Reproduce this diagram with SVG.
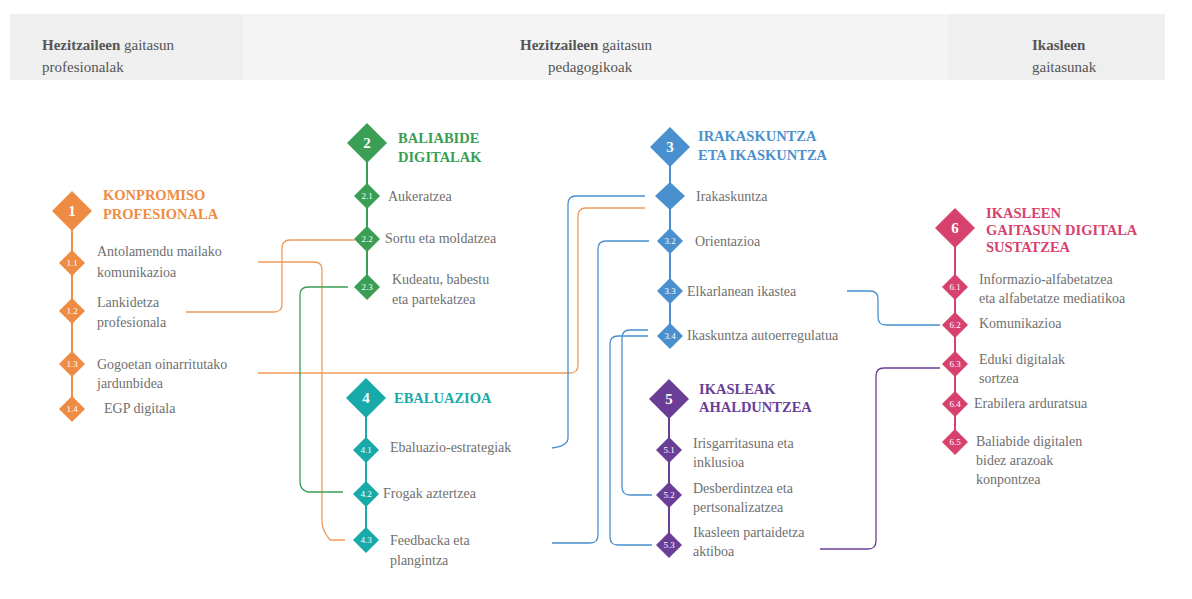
<svg xmlns="http://www.w3.org/2000/svg" width="1192" height="599" viewBox="0 0 1192 599" font-family="'Liberation Serif','Times New Roman','DejaVu Serif',serif">
<style>
text{font-family:'Liberation Serif','Times New Roman','DejaVu Serif',serif;}
.t{font-size:14px;fill:#6f6f6f}
.h{font-size:15px;fill:#555}
.hb{font-weight:bold}
.ti{font-size:14.5px;font-weight:bold}
.n{font-size:15px;fill:#fff;font-weight:bold;text-anchor:middle}
.s{font-size:9px;fill:#fff;text-anchor:middle}
.c{fill:none;stroke-width:1.3}
</style>
<rect x="0" y="0" width="1192" height="599" fill="#fff"/>
<rect x="10" y="14" width="233" height="66" fill="#efefef"/>
<rect x="243" y="14" width="705" height="66" fill="#f4f4f4"/>
<rect x="948" y="14" width="217" height="66" fill="#efefef"/>
<text class="h" x="42" y="50"><tspan class="hb">Hezitzaileen</tspan> gaitasun</text>
<text class="h" x="42" y="72">profesionalak</text>
<text class="h" x="520" y="50"><tspan class="hb">Hezitzaileen</tspan> gaitasun</text>
<text class="h" x="548" y="72">pedagogikoak</text>
<text class="h hb" x="1032" y="50">Ikasleen</text>
<text class="h" x="1032" y="72">gaitasunak</text>

<g id="connectors">
<path class="c" stroke="#ef9a5c" d="M258,262 H314 Q322,262 322,270 V522 Q322,530 330,540 H345"/>
<path class="c" stroke="#ef9a5c" d="M186,312 H274 Q282,312 282,304 V248 Q282,240 290,240 H355"/>
<path class="c" stroke="#ef9a5c" d="M258,373 H570 Q578,373 578,365 V216 Q578,208 586,208 H645"/>
<path class="c" stroke="#3a9e54" d="M348,287 H308 Q300,287 300,295 V482 Q300,490 308,492 H343"/>
<path class="c" stroke="#4a8fce" d="M645,196 H576 Q568,196 568,204 V438 Q568,446 552,448"/>
<path class="c" stroke="#4a8fce" d="M649,241 H606 Q598,241 598,249 V535 Q598,543 590,543 H552"/>
<path class="c" stroke="#4a8fce" d="M648,336 H618 Q610,336 610,344 V537 Q610,545 618,545 H652"/>
<path class="c" stroke="#4a8fce" d="M648,330 H630 Q622,330 622,338 V487 Q622,495 630,495 H652"/>
<path class="c" stroke="#4a8fce" d="M847,291 H870 Q878,291 878,299 V317 Q878,325 886,325 H940"/>
<path class="c" stroke="#6a3e97" d="M820,549 H868 Q876,549 876,541 V376 Q876,368 884,368 H940"/>
</g>

<g id="node1">
<line x1="72" y1="211" x2="72" y2="409" stroke="#ef8c44" stroke-width="2"/>
<path d="M72,191 L92,211 L72,231 L52,211Z" fill="#ef8c44"/><text class="n" x="72" y="216">1</text>
<text class="ti" fill="#ef8c44" x="103" y="200">KONPROMISO</text>
<text class="ti" fill="#ef8c44" x="103" y="219">PROFESIONALA</text>
<path d="M72,250 L85,263 L72,276 L59,263Z" fill="#ef8c44"/><text class="s" x="72" y="266">1.1</text>
<path d="M72,298 L85,311 L72,324 L59,311Z" fill="#ef8c44"/><text class="s" x="72" y="314">1.2</text>
<path d="M72,351 L85,364 L72,377 L59,364Z" fill="#ef8c44"/><text class="s" x="72" y="367">1.3</text>
<path d="M72,396 L85,409 L72,422 L59,409Z" fill="#ef8c44"/><text class="s" x="72" y="412">1.4</text>
<text class="t" x="97" y="256">Antolamendu mailako</text><text class="t" x="97" y="277">komunikazioa</text>
<text class="t" x="97" y="307">Lankidetza</text><text class="t" x="97" y="327">profesionala</text>
<text class="t" x="97" y="369">Gogoetan oinarritutako</text><text class="t" x="97" y="388">jardunbidea</text>
<text class="t" x="104" y="413">EGP digitala</text>
</g>

<g id="node2">
<line x1="367" y1="143" x2="367" y2="287" stroke="#3a9e54" stroke-width="2"/>
<path d="M367,123 L387,143 L367,163 L347,143Z" fill="#3a9e54"/><text class="n" x="367" y="148">2</text>
<text class="ti" fill="#3a9e54" x="398" y="143">BALIABIDE</text>
<text class="ti" fill="#3a9e54" x="398" y="162">DIGITALAK</text>
<path d="M367,183 L380,196 L367,209 L354,196Z" fill="#3a9e54"/><text class="s" x="367" y="199">2.1</text>
<path d="M367,226 L380,239 L367,252 L354,239Z" fill="#3a9e54"/><text class="s" x="367" y="242">2.2</text>
<path d="M367,274 L380,287 L367,300 L354,287Z" fill="#3a9e54"/><text class="s" x="367" y="290">2.3</text>
<text class="t" x="388" y="201">Aukeratzea</text>
<text class="t" x="385" y="243">Sortu eta moldatzea</text>
<text class="t" x="392" y="284">Kudeatu,  babestu</text><text class="t" x="392" y="304">eta partekatzea</text>
</g>

<g id="node3">
<line x1="670" y1="147" x2="670" y2="336" stroke="#4a8fce" stroke-width="2"/>
<path d="M670,127 L690,147 L670,167 L650,147Z" fill="#4a8fce"/><text class="n" x="670" y="152">3</text>
<text class="ti" fill="#4a8fce" x="698" y="141">IRAKASKUNTZA</text>
<text class="ti" fill="#4a8fce" x="698" y="160">ETA IKASKUNTZA</text>
<path d="M670,182 L685,196 L670,210 L655,196Z" fill="#4a8fce"/>
<path d="M670,228 L683,241 L670,254 L657,241Z" fill="#4a8fce"/><text class="s" x="670" y="244">3.2</text>
<path d="M670,278 L683,291 L670,304 L657,291Z" fill="#4a8fce"/><text class="s" x="670" y="294">3.3</text>
<path d="M670,323 L683,336 L670,349 L657,336Z" fill="#4a8fce"/><text class="s" x="670" y="339">3.4</text>
<text class="t" x="696" y="201">Irakaskuntza</text>
<text class="t" x="695" y="246">Orientazioa</text>
<text class="t" x="687" y="296">Elkarlanean ikastea</text>
<text class="t" x="687" y="340">Ikaskuntza autoerregulatua</text>
</g>

<g id="node4">
<line x1="366" y1="398" x2="366" y2="540" stroke="#17aaa8" stroke-width="2"/>
<path d="M366,378 L386,398 L366,418 L346,398Z" fill="#17aaa8"/><text class="n" x="366" y="403">4</text>
<text class="ti" fill="#17aaa8" x="394" y="403">EBALUAZIOA</text>
<path d="M366,437 L379,450 L366,463 L353,450Z" fill="#17aaa8"/><text class="s" x="366" y="453">4.1</text>
<path d="M366,481 L379,494 L366,507 L353,494Z" fill="#17aaa8"/><text class="s" x="366" y="497">4.2</text>
<path d="M366,527 L379,540 L366,553 L353,540Z" fill="#17aaa8"/><text class="s" x="366" y="543">4.3</text>
<text class="t" x="390" y="452">Ebaluazio-estrategiak</text>
<text class="t" x="383" y="498">Frogak aztertzea</text>
<text class="t" x="390" y="545">Feedbacka eta</text><text class="t" x="390" y="565">plangintza</text>
</g>

<g id="node5">
<line x1="669" y1="399" x2="669" y2="545" stroke="#6a3e97" stroke-width="2"/>
<path d="M669,379 L689,399 L669,419 L649,399Z" fill="#6a3e97"/><text class="n" x="669" y="404">5</text>
<text class="ti" fill="#6a3e97" x="699" y="394">IKASLEAK</text>
<text class="ti" fill="#6a3e97" x="699" y="412">AHALDUNTZEA</text>
<path d="M669,437 L682,450 L669,463 L656,450Z" fill="#6a3e97"/><text class="s" x="669" y="453">5.1</text>
<path d="M669,482 L682,495 L669,508 L656,495Z" fill="#6a3e97"/><text class="s" x="669" y="498">5.2</text>
<path d="M669,532 L682,545 L669,558 L656,545Z" fill="#6a3e97"/><text class="s" x="669" y="548">5.3</text>
<text class="t" x="693" y="448">Irisgarritasuna eta</text><text class="t" x="693" y="467">inklusioa</text>
<text class="t" x="693" y="493">Desberdintzea eta</text><text class="t" x="693" y="512">pertsonalizatzea</text>
<text class="t" x="693" y="537">Ikasleen partaidetza</text><text class="t" x="693" y="556">aktiboa</text>
</g>

<g id="node6">
<line x1="955" y1="228" x2="955" y2="442" stroke="#d6416e" stroke-width="2"/>
<path d="M955,208 L975,228 L955,248 L935,228Z" fill="#d6416e"/><text class="n" x="955" y="233">6</text>
<text class="ti" fill="#d6416e" x="986" y="218">IKASLEEN</text>
<text class="ti" fill="#d6416e" x="986" y="235">GAITASUN DIGITALA</text>
<text class="ti" fill="#d6416e" x="986" y="252">SUSTATZEA</text>
<path d="M955,274 L968,287 L955,300 L942,287Z" fill="#d6416e"/><text class="s" x="955" y="290">6.1</text>
<path d="M955,312 L968,325 L955,338 L942,325Z" fill="#d6416e"/><text class="s" x="955" y="328">6.2</text>
<path d="M955,351 L968,364 L955,377 L942,364Z" fill="#d6416e"/><text class="s" x="955" y="367">6.3</text>
<path d="M955,391 L968,404 L955,417 L942,404Z" fill="#d6416e"/><text class="s" x="955" y="407">6.4</text>
<path d="M955,429 L968,442 L955,455 L942,442Z" fill="#d6416e"/><text class="s" x="955" y="445">6.5</text>
<text class="t" x="979" y="284">Informazio-alfabetatzea</text><text class="t" x="979" y="303">eta alfabetatze mediatikoa</text>
<text class="t" x="979" y="328">Komunikazioa</text>
<text class="t" x="979" y="364">Eduki digitalak</text><text class="t" x="979" y="383">sortzea</text>
<text class="t" x="974" y="408">Erabilera arduratsua</text>
<text class="t" x="976" y="446">Baliabide digitalen</text><text class="t" x="976" y="465">bidez arazoak</text><text class="t" x="976" y="484">konpontzea</text>
</g>
</svg>
